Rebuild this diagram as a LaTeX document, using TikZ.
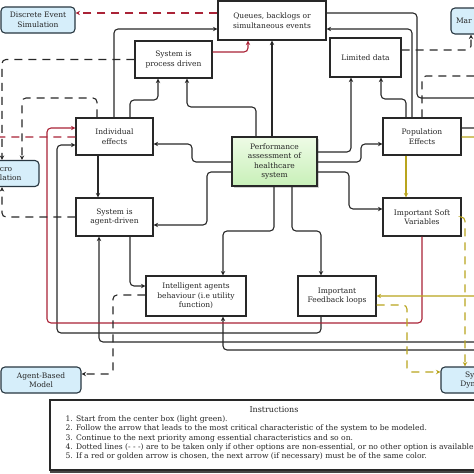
\documentclass[tikz,border=0pt]{standalone}
\usepackage{fontspec}
\setmainfont{DejaVu Serif}
\usetikzlibrary{arrows.meta,shadows}

\definecolor{redline}{RGB}{170,35,55}
\definecolor{goldline}{RGB}{185,165,30}
\definecolor{skyfill}{RGB}{214,238,250}
\definecolor{skyedge}{RGB}{40,55,65}
\definecolor{greentop}{RGB}{238,251,230}
\definecolor{greenbot}{RGB}{200,240,184}
\definecolor{linegray}{RGB}{40,40,40}

\begin{document}
\begin{tikzpicture}[x=1pt,y=-1pt,line width=1.1pt]
    \tikzstyle{box}=[draw=linegray,fill=white,align=center,inner sep=1pt,text=black!85,
        font=\fontsize{7.5}{9.5}\selectfont]
    \tikzstyle{model box}=[box,rounded corners=4pt,fill=skyfill,draw=skyedge,minimum height=26pt]
    \tikzstyle{char box}=[box,minimum width=77pt,minimum height=37pt]
    \tikzstyle{start box}=[box,top color=greentop,bottom color=greenbot,
        drop shadow={shadow xshift=2pt,shadow yshift=-2pt,opacity=0.35}]
    \tikzstyle{link}=[draw=linegray,rounded corners=4pt,-{Stealth[length=4.5pt,width=4.5pt]}]
    \tikzstyle{red link}=[link,draw=redline]
    \tikzstyle{gold link}=[link,draw=goldline]
    \tikzstyle{opt}=[dash pattern=on 8pt off 6pt]

    \useasboundingbox (0,0) rectangle (474,474);
    \fill[white] (0,0) rectangle (474,474);
    \clip (0,0) rectangle (474,474);

    % Draw the model boxes
    \node[model box,minimum width=74pt] (des) at (38,20) {Discrete Event\\Simulation};
    \node[model box,minimum width=66pt,text width=56pt,align=left] (mark) at (484,21) {Mar};
    \node[model box,minimum width=76pt] (micro) at (1,173.5) {Micro\\Simulation};
    \node[model box,minimum width=80pt] (abm) at (41,380) {Agent-Based\\Model};
    \node[model box,minimum width=76pt] (sd) at (479,380) {System\\Dynamics};

    % Draw the characteristics
    \node[box,minimum width=108pt,minimum height=39pt] (ques) at (272,20.5) {Queues, backlogs or\\simultaneous events};
    \node[char box] (proc) at (173.5,59.5) {System is\\process driven};
    \node[char box,minimum width=71pt,minimum height=39pt] (lim) at (365.5,57.5) {Limited data};
    \node[char box] (ind) at (114.5,136.5) {Individual\\effects};
    \node[char box,minimum width=78pt] (pop) at (422,136.5) {Population\\Effects};
    \node[char box,minimum height=38pt] (agent) at (114.5,217) {System is\\agent-driven};
    \node[char box,minimum width=78pt,minimum height=38pt] (soft) at (422,217) {Important Soft\\Variables};
    \node[char box,minimum width=100pt,minimum height=40pt] (intel) at (196,296) {Intelligent agents\\behaviour (i.e utility\\function)};
    \node[char box,minimum width=78pt,minimum height=40pt] (feed) at (337,296) {Important\\Feedback loops};

    % The start box
    \node[start box,minimum width=85pt,minimum height=49pt] (perf) at (274.5,161.5) {Performance\\assessment of\\healthcare\\system};

    % Connect the start box with the characteristics
    \draw[link] (perf.north -| 272,0) -- (ques.south -| 272,0);
    \draw[link] (perf.north -| 256,0) |- (187,107) -- (proc.south -| 187,0);
    \draw[link] (perf.east |- 0,152) -| (lim.south -| 351,0);
    \draw[link] (perf.east |- 0,162) -| (361,144) -- (pop.west |- 0,144);
    \draw[link] (perf.east |- 0,172) -| (349,209) -- (soft.west |- 0,209);
    \draw[link] (perf.west |- 0,162) -| (192,144) -- (ind.east |- 0,144);
    \draw[link] (perf.west |- 0,172) -| (207,225) -- (agent.east |- 0,225);
    \draw[link] (perf.south -| 274,0) |- (223,231) -- (intel.north -| 223,0);
    \draw[link] (perf.south -| 292,0) |- (321,231) -- (feed.north -| 321,0);

    % Connect the characteristics with each other
    \draw[link] (ind.north -| 114,0) |- (ques.west |- 0,29);
    \draw[link] (ind.north -| 130,0) |- (158,100) -- (proc.south -| 158,0);
    \draw[link] (ind.south -| 98,0) -- (agent.north -| 98,0);
    \draw[link] (agent.south -| 130,0) |- (intel.west |- 0,286);
    \draw[link] (pop.north -| 412,0) |- (ques.east |- 0,29);
    \draw[link] (pop.north -| 406,0) |- (381,99) -- (lim.south -| 381,0);
    \draw[link] (feed.south -| 321,0) |- (57,333) |- (ind.west |- 0,145);
    \draw[link] (pop.east |- 0,128) -| (485,342) -| (agent.south -| 99,0);
    \draw[link] (ques.east |- 0,13) -| (417,98) -| (490,350) -| (intel.south -| 223,0);

    % Red and golden paths
    \draw[red link] (proc.east |- 0,52) -| (ques.south -| 248,0);
    \draw[red link] (soft.south -| 422,0) |- (47,323) |- (ind.west |- 0,128);
    \draw[red link,opt] (ques.west |- 0,13) -- (des.east |- 0,13);
    \draw[red link,opt] (ind.west |- 0,137) -| (-45,174) -- (micro.west);
    \draw[gold link] (pop.south -| 406,0) -- (soft.north -| 406,0);
    \draw[gold link] (pop.east |- 0,137) -| (480,296) -- (feed.east |- 0,296);
    \draw[gold link,opt] (feed.east |- 0,305) -| (407,372) -- (sd.west |- 0,372);
    \draw[gold link,opt] (soft.east |- 0,217) -| (sd.north -| 465,0);

    % Dotted lines to the models
    \draw[link,opt] (lim.east |- 0,50) -| (mark.south -| 471,0);
    \draw[link,opt] (pop.north -| 422,0) |- (495,76);
    \draw[link,opt] (proc.west) -| (micro.north -| 2,0);
    \draw[link,opt] (ind.north -| 97,0) |- (22,98) -- (micro.north -| 22,0);
    \draw[link,opt] (agent.west) -| (micro.south -| 2,0);
    \draw[link,opt] (intel.west |- 0,295) -| (113,374) -- (abm.east |- 0,374);

    % Instructions
    \node[draw=linegray,fill=white,minimum width=450pt,minimum height=70pt,
        drop shadow={shadow xshift=0pt,shadow yshift=-3pt,opacity=0.9,fill=black!80}] (instr) at (275,435) {};
    \node[font=\fontsize{8}{9.4}\selectfont,text=black!85] (instr title) at (274,410) {Instructions};
    \node[anchor=north west,align=left,inner sep=0pt,text=black!85,
        font=\fontsize{7.6}{9.4}\selectfont] (instr list) at (65,415) {1. Start from the center box (light green).\\
        2. Follow the arrow that leads to the most critical characteristic of the system to be modeled.\\
        3. Continue to the next priority among essential characteristics and so on.\\
        4. Dotted lines (- - -) are to be taken only if other options are non-essential, or no other option is available.\\
        5. If a red or golden arrow is chosen, the next arrow (if necessary) must be of the same color.};
\end{tikzpicture}
\end{document}
